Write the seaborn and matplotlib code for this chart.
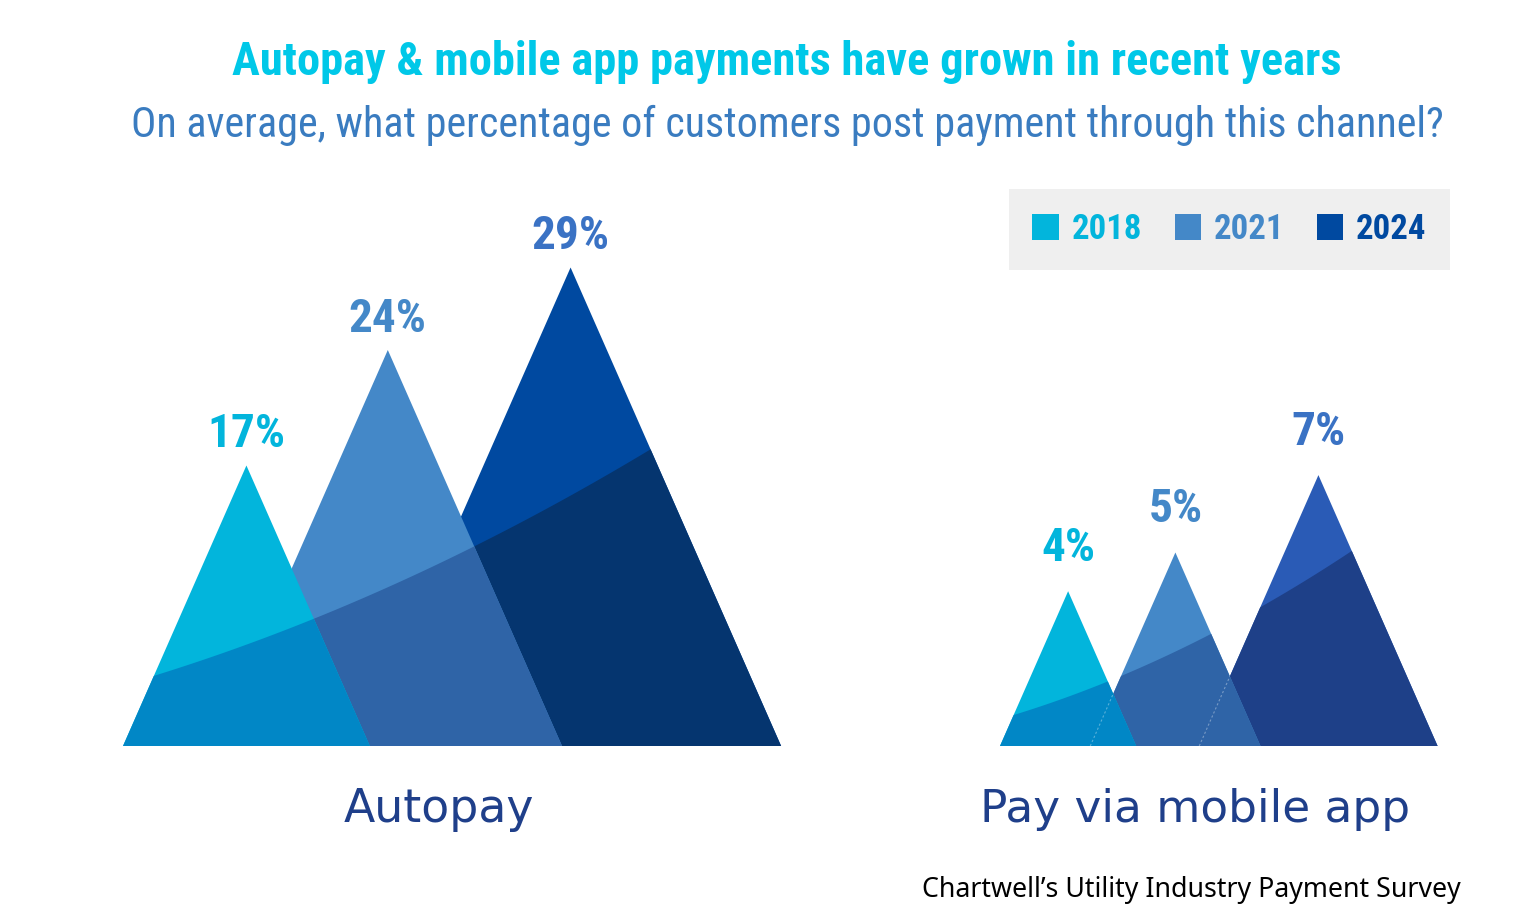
import numpy as np
import matplotlib
matplotlib.use("Agg")
import matplotlib.pyplot as plt
from matplotlib.patches import Polygon, Patch
import seaborn as sns

# data
years = ["2018", "2021", "2024"]
autopay = [17, 24, 29]
mobile_app = [4, 5, 7]
channels = ["Autopay", "Pay via mobile app"]

title = "Autopay & mobile app payments have grown in recent years"
subtitle = "On average, what percentage of customers post payment through this channel?"
source = "Chartwell\u2019s Utility Industry Payment Survey"

# colours
year_colors = sns.color_palette(["#02b5dc", "#4488c8", "#0049a0"])
label_colors = ["#02b5dc", "#4488c8", "#3a72c4"]
top_auto = ["#02b5dc", "#4488c8", "#0049a0"]
low_auto = ["#0187c6", "#2f64a7", "#05356f"]
top_mob = ["#02b5dc", "#4488c8", "#2a5bb6"]
low_mob = ["#0187c6", "#2f64a7", "#1e4088"]
navy = "#1f3f8a"

sns.set_theme(style="white")
narrow = ["Roboto Condensed", "Roboto", "DejaVu Sans"]
plt.rcParams["font.family"] = ["DejaVu Sans"]

W, H = 1536, 923
fig = plt.figure(figsize=(W / 100, H / 100), dpi=100)
renderer = fig.canvas.get_renderer()

SLOPE = 0.44  # half width of a peak relative to its height


def fit_width(txt, target_px):
    # scale a text so its rendered width matches the reference
    w = txt.get_window_extent(renderer).width
    txt.set_fontsize(txt.get_fontsize() * target_px / w)


def bezier(p0, p1, p2, n=80):
    t = np.linspace(0, 1, n)[:, None]
    return (1 - t) ** 2 * p0 + 2 * (1 - t) * t * p1 + t ** 2 * p2


def panel(values, tops, lows, left_px, width_px, top_px, ppp, x0_px,
          overlap, f0, f1, sag, lab_off, hidden_edges):
    base_px = 746
    ax = fig.add_axes([left_px / W, (H - base_px) / H, width_px / W, (base_px - top_px) / H])
    ax.set_xlim((left_px - x0_px) / ppp, (left_px + width_px - x0_px) / ppp)
    ax.set_ylim(0, (base_px - top_px) / ppp)
    ax.axis("off")

    # peak centres packed side by side
    hw = [SLOPE * v for v in values]
    centers = [hw[0]]
    for i in range(1, len(values)):
        centers.append(centers[-1] + overlap * (hw[i - 1] + hw[i]))

    # shading curve across the lower part of the peaks
    p0 = np.array([centers[0] - hw[0] * (1 - f0), f0 * values[0]])
    p2 = np.array([centers[-1] + hw[-1] * (1 - f1), f1 * values[-1]])
    p1 = (p0 + p2) / 2 - np.array([0, 2 * sag])
    curve = bezier(p0, p1, p2)
    d0 = (p0 - p1) / np.linalg.norm(p0 - p1) * 50
    d2 = (p2 - p1) / np.linalg.norm(p2 - p1) * 50
    lower = np.vstack([p0 + d0, curve, p2 + d2,
                       [p2[0] + d2[0], -5], [p0[0] + d0[0], -5]])

    tris = []
    for i in reversed(range(len(values))):
        c, h, v = centers[i], hw[i], values[i]
        tri = Polygon([[c - h, 0], [c, v], [c + h, 0]], closed=True,
                      facecolor=tops[i], edgecolor="none", zorder=10 - 2 * i)
        ax.add_patch(tri)
        shade = Polygon(lower, closed=True, facecolor=lows[i], edgecolor="none",
                        zorder=10 - 2 * i + 1)
        ax.add_patch(shade)
        shade.set_clip_path(tri)
        tris.insert(0, tri)

    if hidden_edges:
        for i in range(1, len(values)):
            c, h, v = centers[i], hw[i], values[i]
            ln, = ax.plot([c - h, c], [0, v], color="white", lw=0.8, ls=(0, (2, 2)),
                          alpha=0.35, zorder=20)
            ln.set_clip_path(tris[i - 1])

    for i, v in enumerate(values):
        ax.annotate(f"{v}%", xy=(centers[i], v), xytext=(0, lab_off),
                    textcoords="offset points", ha="center", va="baseline",
                    fontsize=34, fontweight="bold", color=label_colors[i],
                    family=narrow, annotation_clip=False)
    return ax


panel(autopay, top_auto, low_auto, left_px=100, width_px=700, top_px=160, ppp=16.5,
      x0_px=123, overlap=0.475, f0=0.25, f1=0.62, sag=1.1, lab_off=13,
      hidden_edges=False)
panel(mobile_app, top_mob, low_mob, left_px=980, width_px=480, top_px=282, ppp=38.7,
      x0_px=1000, overlap=0.70, f0=0.2, f1=0.72, sag=0.39, lab_off=22,
      hidden_edges=True)

# titles
t1 = fig.text(787 / W, (H - 75) / H, title, ha="center", va="baseline", fontsize=30,
              fontweight="bold", color="#00c8e8", family=narrow)
fit_width(t1, 1110)
t2 = fig.text(787 / W, (H - 137) / H, subtitle, ha="center", va="baseline", fontsize=26,
              color="#3a7cc0", family=narrow)
fit_width(t2, 1313)

# channel labels
c1 = fig.text(439 / W, (H - 822) / H, channels[0], ha="center", va="baseline",
              fontsize=28, color=navy)
fit_width(c1, 190)
c2 = fig.text(1195 / W, (H - 822) / H, channels[1], ha="center", va="baseline",
              fontsize=28, color=navy)
fit_width(c2, 429)

s = fig.text(1461 / W, (H - 897) / H, source, ha="right", va="baseline", fontsize=18,
             color="black", family=["Noto Sans", "DejaVu Sans"])
fit_width(s, 539)

# legend
handles = [Patch(facecolor=year_colors[i], edgecolor="none", label=years[i])
           for i in range(len(years))]
leg = fig.legend(handles=handles, loc="center",
                 bbox_to_anchor=(1229.5 / W, (H - 229.5) / H), ncol=3,
                 frameon=True, fancybox=False, framealpha=1,
                 handlelength=0.75, handleheight=0.75, handletextpad=0.37,
                 columnspacing=0.95, borderpad=0.68,
                 prop=dict(family=narrow, weight="bold", size=25))
leg.get_frame().set_facecolor("#efefef")
leg.get_frame().set_edgecolor("none")
for t, c in zip(leg.get_texts(), ["#02b5dc", "#4488c8", "#0049a0"]):
    t.set_color(c)

fig.savefig("out.png", dpi=100)
